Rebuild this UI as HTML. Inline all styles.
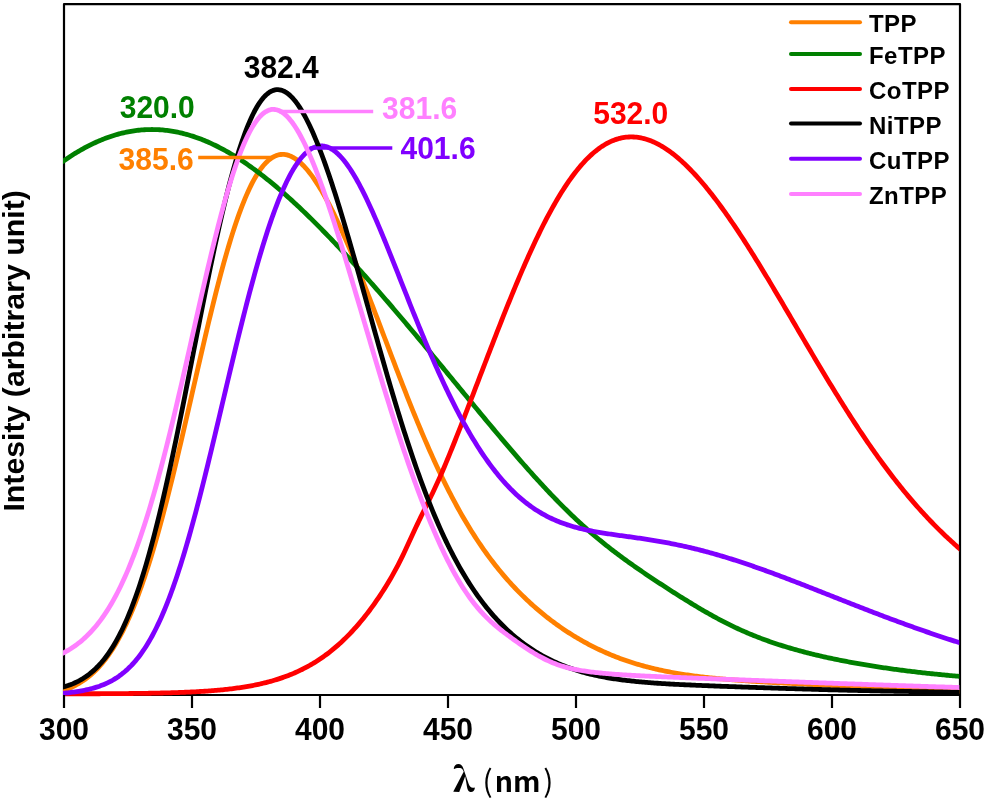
<!DOCTYPE html>
<html><head><meta charset="utf-8"><style>
html,body{margin:0;padding:0;background:#fff;width:986px;height:801px;overflow:hidden}
svg{display:block}
text{font-family:'Liberation Sans', Arial, sans-serif;font-weight:bold}
</style></head><body>
<svg width="986" height="801" viewBox="0 0 986 801">
<rect x="0" y="0" width="986" height="801" fill="#fff"/>
<defs><clipPath id="pc"><rect x="63" y="5" width="896.3" height="698"/></clipPath></defs>
<rect x="64" y="4.2" width="896" height="690.8" fill="none" stroke="#000" stroke-width="2.2" stroke-linejoin="round"/>
<g clip-path="url(#pc)" fill="none" stroke-width="4.8" stroke-linejoin="round" stroke-linecap="butt">
<path d="M62.0,690.99 L63.5,690.48 L65.0,689.94 L66.5,689.38 L68.0,688.79 L69.5,688.16 L71.0,687.50 L72.5,686.80 L74.0,686.07 L75.5,685.30 L77.0,684.49 L78.5,683.64 L80.0,682.74 L81.5,681.80 L83.0,680.82 L84.5,679.78 L86.0,678.70 L87.5,677.56 L89.0,676.37 L90.5,675.12 L92.0,673.82 L93.5,672.45 L95.0,671.03 L96.5,669.54 L98.0,667.98 L99.5,666.36 L101.0,664.67 L102.5,662.90 L104.0,661.06 L105.5,659.15 L107.0,657.16 L108.5,655.08 L110.0,652.93 L111.5,650.70 L113.0,648.37 L114.5,645.97 L116.0,643.47 L117.5,640.88 L119.0,638.20 L120.5,635.43 L122.0,632.56 L123.5,629.59 L125.0,626.53 L126.5,623.37 L128.0,620.10 L129.5,616.74 L131.0,613.27 L132.5,609.70 L134.0,606.03 L135.5,602.25 L137.0,598.37 L138.5,594.38 L140.0,590.29 L141.5,586.09 L143.0,581.78 L144.5,577.37 L146.0,572.86 L147.5,568.24 L149.0,563.52 L150.5,558.70 L152.0,553.77 L153.5,548.75 L155.0,543.63 L156.5,538.41 L158.0,533.10 L159.5,527.69 L161.0,522.20 L162.5,516.62 L164.0,510.95 L165.5,505.20 L167.0,499.37 L168.5,493.47 L170.0,487.49 L171.5,481.44 L173.0,475.33 L174.5,469.15 L176.0,462.92 L177.5,456.63 L179.0,450.30 L180.5,443.92 L182.0,437.50 L183.5,431.04 L185.0,424.55 L186.5,418.04 L188.0,411.51 L189.5,404.96 L191.0,398.40 L192.5,391.83 L194.0,385.27 L195.5,378.71 L197.0,372.16 L198.5,365.62 L200.0,359.11 L201.5,352.63 L203.0,346.18 L204.5,339.76 L206.0,333.39 L207.5,327.07 L209.0,320.80 L210.5,314.60 L212.0,308.45 L213.5,302.38 L215.0,296.38 L216.5,290.46 L218.0,284.63 L219.5,278.88 L221.0,273.23 L222.5,267.68 L224.0,262.22 L225.5,256.88 L227.0,251.64 L228.5,246.52 L230.0,241.52 L231.5,236.63 L233.0,231.88 L234.5,227.24 L236.0,222.74 L237.5,218.38 L239.0,214.14 L240.5,210.05 L242.0,206.09 L243.5,202.28 L245.0,198.61 L246.5,195.08 L248.0,191.70 L249.5,188.46 L251.0,185.38 L252.5,182.44 L254.0,179.65 L255.5,177.01 L257.0,174.52 L258.5,172.18 L260.0,169.99 L261.5,167.95 L263.0,166.05 L264.5,164.30 L266.0,162.70 L267.5,161.25 L269.0,159.94 L270.5,158.77 L272.0,157.75 L273.5,156.86 L275.0,156.12 L276.5,155.51 L278.0,155.03 L279.5,154.69 L281.0,154.49 L282.5,154.41 L284.0,154.46 L285.5,154.63 L287.0,154.93 L288.5,155.35 L290.0,155.89 L291.5,156.55 L293.0,157.32 L294.5,158.20 L296.0,159.19 L297.5,160.29 L299.0,161.49 L300.5,162.80 L302.0,164.21 L303.5,165.72 L305.0,167.32 L306.5,169.02 L308.0,170.80 L309.5,172.68 L311.0,174.64 L312.5,176.69 L314.0,178.82 L315.5,181.04 L317.0,183.33 L318.5,185.69 L320.0,188.13 L321.5,190.64 L323.0,193.23 L324.5,195.88 L326.0,198.59 L327.5,201.38 L329.0,204.22 L330.5,207.12 L332.0,210.09 L333.5,213.11 L335.0,216.18 L336.5,219.31 L338.0,222.49 L339.5,225.72 L341.0,228.99 L342.5,232.32 L344.0,235.69 L345.5,239.10 L347.0,242.55 L348.5,246.04 L350.0,249.57 L351.5,253.14 L353.0,256.74 L354.5,260.37 L356.0,264.03 L357.5,267.73 L359.0,271.45 L360.5,275.20 L362.0,278.97 L363.5,282.77 L365.0,286.59 L366.5,290.43 L368.0,294.29 L369.5,298.16 L371.0,302.05 L372.5,305.96 L374.0,309.87 L375.5,313.80 L377.0,317.73 L378.5,321.68 L380.0,325.63 L381.5,329.58 L383.0,333.53 L384.5,337.49 L386.0,341.45 L387.5,345.40 L389.0,349.36 L390.5,353.31 L392.0,357.25 L393.5,361.18 L395.0,365.11 L396.5,369.02 L398.0,372.93 L399.5,376.82 L401.0,380.69 L402.5,384.56 L404.0,388.40 L405.5,392.23 L407.0,396.03 L408.5,399.82 L410.0,403.59 L411.5,407.33 L413.0,411.05 L414.5,414.75 L416.0,418.42 L417.5,422.06 L419.0,425.68 L420.5,429.27 L422.0,432.83 L423.5,436.36 L425.0,439.86 L426.5,443.32 L428.0,446.76 L429.5,450.17 L431.0,453.54 L432.5,456.88 L434.0,460.18 L435.5,463.45 L437.0,466.69 L438.5,469.89 L440.0,473.05 L441.5,476.18 L443.0,479.28 L444.5,482.33 L446.0,485.36 L447.5,488.34 L449.0,491.29 L450.5,494.20 L452.0,497.08 L453.5,499.92 L455.0,502.72 L456.5,505.49 L458.0,508.22 L459.5,510.91 L461.0,513.57 L462.5,516.19 L464.0,518.78 L465.5,521.33 L467.0,523.85 L468.5,526.33 L470.0,528.78 L471.5,531.19 L473.0,533.57 L474.5,535.91 L476.0,538.22 L477.5,540.50 L479.0,542.75 L480.5,544.96 L482.0,547.15 L483.5,549.30 L485.0,551.42 L486.5,553.51 L488.0,555.57 L489.5,557.60 L491.0,559.60 L492.5,561.57 L494.0,563.51 L495.5,565.43 L497.0,567.32 L498.5,569.18 L500.0,571.02 L501.5,572.82 L503.0,574.61 L504.5,576.36 L506.0,578.10 L507.5,579.81 L509.0,581.49 L510.5,583.15 L512.0,584.79 L513.5,586.40 L515.0,587.99 L516.5,589.56 L518.0,591.11 L519.5,592.64 L521.0,594.14 L522.5,595.63 L524.0,597.09 L525.5,598.54 L527.0,599.96 L528.5,601.36 L530.0,602.75 L531.5,604.12 L533.0,605.47 L534.5,606.80 L536.0,608.11 L537.5,609.40 L539.0,610.68 L540.5,611.94 L542.0,613.18 L543.5,614.41 L545.0,615.62 L546.5,616.81 L548.0,617.99 L549.5,619.15 L551.0,620.30 L552.5,621.42 L554.0,622.54 L555.5,623.64 L557.0,624.72 L558.5,625.79 L560.0,626.85 L561.5,627.89 L563.0,628.91 L564.5,629.92 L566.0,630.92 L567.5,631.90 L569.0,632.87 L570.5,633.83 L572.0,634.77 L573.5,635.70 L575.0,636.61 L576.5,637.52 L578.0,638.41 L579.5,639.28 L581.0,640.14 L582.5,640.99 L584.0,641.83 L585.5,642.66 L587.0,643.47 L588.5,644.27 L590.0,645.06 L591.5,645.83 L593.0,646.59 L594.5,647.35 L596.0,648.09 L597.5,648.81 L599.0,649.53 L600.5,650.23 L602.0,650.93 L603.5,651.61 L605.0,652.28 L606.5,652.94 L608.0,653.58 L609.5,654.22 L611.0,654.85 L612.5,655.46 L614.0,656.07 L615.5,656.66 L617.0,657.24 L618.5,657.82 L620.0,658.38 L621.5,658.93 L623.0,659.48 L624.5,660.01 L626.0,660.53 L627.5,661.05 L629.0,661.55 L630.5,662.04 L632.0,662.53 L633.5,663.00 L635.0,663.47 L636.5,663.93 L638.0,664.38 L639.5,664.82 L641.0,665.25 L642.5,665.67 L644.0,666.08 L645.5,666.49 L647.0,666.89 L648.5,667.28 L650.0,667.66 L651.5,668.03 L653.0,668.40 L654.5,668.76 L656.0,669.11 L657.5,669.45 L659.0,669.79 L660.5,670.12 L662.0,670.44 L663.5,670.76 L665.0,671.07 L666.5,671.37 L668.0,671.66 L669.5,671.95 L671.0,672.24 L672.5,672.51 L674.0,672.79 L675.5,673.05 L677.0,673.31 L678.5,673.56 L680.0,673.81 L681.5,674.05 L683.0,674.29 L684.5,674.52 L686.0,674.75 L687.5,674.97 L689.0,675.19 L690.5,675.40 L692.0,675.61 L693.5,675.82 L695.0,676.02 L696.5,676.21 L698.0,676.40 L699.5,676.59 L701.0,676.77 L702.5,676.95 L704.0,677.12 L705.5,677.29 L707.0,677.46 L708.5,677.63 L710.0,677.79 L711.5,677.94 L713.0,678.10 L714.5,678.25 L716.0,678.40 L717.5,678.54 L719.0,678.68 L720.5,678.82 L722.0,678.96 L723.5,679.09 L725.0,679.22 L726.5,679.35 L728.0,679.48 L729.5,679.60 L731.0,679.73 L732.5,679.85 L734.0,679.96 L735.5,680.08 L737.0,680.19 L738.5,680.30 L740.0,680.41 L741.5,680.52 L743.0,680.63 L744.5,680.73 L746.0,680.84 L747.5,680.94 L749.0,681.04 L750.5,681.14 L752.0,681.23 L753.5,681.33 L755.0,681.43 L756.5,681.52 L758.0,681.61 L759.5,681.70 L761.0,681.79 L762.5,681.88 L764.0,681.97 L765.5,682.06 L767.0,682.14 L768.5,682.23 L770.0,682.31 L771.5,682.40 L773.0,682.48 L774.5,682.56 L776.0,682.65 L777.5,682.73 L779.0,682.81 L780.5,682.89 L782.0,682.97 L783.5,683.04 L785.0,683.12 L786.5,683.20 L788.0,683.28 L789.5,683.35 L791.0,683.43 L792.5,683.51 L794.0,683.58 L795.5,683.66 L797.0,683.73 L798.5,683.81 L800.0,683.88 L801.5,683.96 L803.0,684.03 L804.5,684.10 L806.0,684.18 L807.5,684.25 L809.0,684.32 L810.5,684.40 L812.0,684.47 L813.5,684.54 L815.0,684.62 L816.5,684.69 L818.0,684.76 L819.5,684.83 L821.0,684.90 L822.5,684.98 L824.0,685.05 L825.5,685.12 L827.0,685.19 L828.5,685.26 L830.0,685.34 L831.5,685.41 L833.0,685.48 L834.5,685.55 L836.0,685.62 L837.5,685.69 L839.0,685.76 L840.5,685.84 L842.0,685.91 L843.5,685.98 L845.0,686.05 L846.5,686.12 L848.0,686.19 L849.5,686.26 L851.0,686.34 L852.5,686.41 L854.0,686.48 L855.5,686.55 L857.0,686.62 L858.5,686.69 L860.0,686.77 L861.5,686.84 L863.0,686.91 L864.5,686.98 L866.0,687.05 L867.5,687.12 L869.0,687.19 L870.5,687.27 L872.0,687.34 L873.5,687.41 L875.0,687.48 L876.5,687.55 L878.0,687.62 L879.5,687.69 L881.0,687.77 L882.5,687.84 L884.0,687.91 L885.5,687.98 L887.0,688.05 L888.5,688.12 L890.0,688.19 L891.5,688.26 L893.0,688.34 L894.5,688.41 L896.0,688.48 L897.5,688.55 L899.0,688.62 L900.5,688.69 L902.0,688.76 L903.5,688.83 L905.0,688.90 L906.5,688.97 L908.0,689.05 L909.5,689.12 L911.0,689.19 L912.5,689.26 L914.0,689.33 L915.5,689.40 L917.0,689.47 L918.5,689.54 L920.0,689.61 L921.5,689.68 L923.0,689.75 L924.5,689.82 L926.0,689.89 L927.5,689.96 L929.0,690.03 L930.5,690.09 L932.0,690.16 L933.5,690.23 L935.0,690.30 L936.5,690.37 L938.0,690.44 L939.5,690.51 L941.0,690.57 L942.5,690.64 L944.0,690.71 L945.5,690.78 L947.0,690.85 L948.5,690.91 L950.0,690.98 L951.5,691.05 L953.0,691.11 L954.5,691.18 L956.0,691.25 L957.5,691.31 L959.0,691.38 L960.5,691.45 L962.0,691.51" stroke="#FF8000"/>
<path d="M62.0,162.06 L63.5,161.00 L65.0,159.97 L66.5,158.95 L68.0,157.94 L69.5,156.95 L71.0,155.98 L72.5,155.03 L74.0,154.09 L75.5,153.16 L77.0,152.26 L78.5,151.37 L80.0,150.49 L81.5,149.64 L83.0,148.80 L84.5,147.98 L86.0,147.17 L87.5,146.39 L89.0,145.62 L90.5,144.86 L92.0,144.13 L93.5,143.41 L95.0,142.71 L96.5,142.03 L98.0,141.36 L99.5,140.72 L101.0,140.09 L102.5,139.47 L104.0,138.88 L105.5,138.31 L107.0,137.75 L108.5,137.21 L110.0,136.69 L111.5,136.18 L113.0,135.70 L114.5,135.23 L116.0,134.78 L117.5,134.35 L119.0,133.94 L120.5,133.54 L122.0,133.17 L123.5,132.81 L125.0,132.47 L126.5,132.15 L128.0,131.85 L129.5,131.56 L131.0,131.30 L132.5,131.05 L134.0,130.82 L135.5,130.61 L137.0,130.42 L138.5,130.25 L140.0,130.09 L141.5,129.95 L143.0,129.84 L144.5,129.74 L146.0,129.66 L147.5,129.59 L149.0,129.55 L150.5,129.53 L152.0,129.52 L153.5,129.53 L155.0,129.56 L156.5,129.61 L158.0,129.67 L159.5,129.76 L161.0,129.86 L162.5,129.98 L164.0,130.12 L165.5,130.28 L167.0,130.45 L168.5,130.65 L170.0,130.86 L171.5,131.09 L173.0,131.33 L174.5,131.60 L176.0,131.88 L177.5,132.18 L179.0,132.50 L180.5,132.84 L182.0,133.19 L183.5,133.56 L185.0,133.95 L186.5,134.36 L188.0,134.78 L189.5,135.22 L191.0,135.68 L192.5,136.16 L194.0,136.65 L195.5,137.16 L197.0,137.68 L198.5,138.22 L200.0,138.78 L201.5,139.36 L203.0,139.95 L204.5,140.56 L206.0,141.19 L207.5,141.83 L209.0,142.48 L210.5,143.16 L212.0,143.85 L213.5,144.55 L215.0,145.27 L216.5,146.01 L218.0,146.76 L219.5,147.53 L221.0,148.31 L222.5,149.11 L224.0,149.92 L225.5,150.75 L227.0,151.59 L228.5,152.45 L230.0,153.32 L231.5,154.21 L233.0,155.11 L234.5,156.03 L236.0,156.96 L237.5,157.90 L239.0,158.86 L240.5,159.83 L242.0,160.82 L243.5,161.82 L245.0,162.83 L246.5,163.85 L248.0,164.89 L249.5,165.94 L251.0,167.01 L252.5,168.08 L254.0,169.17 L255.5,170.28 L257.0,171.39 L258.5,172.52 L260.0,173.66 L261.5,174.81 L263.0,175.97 L264.5,177.15 L266.0,178.33 L267.5,179.53 L269.0,180.74 L270.5,181.96 L272.0,183.19 L273.5,184.43 L275.0,185.69 L276.5,186.95 L278.0,188.22 L279.5,189.51 L281.0,190.80 L282.5,192.11 L284.0,193.42 L285.5,194.75 L287.0,196.08 L288.5,197.43 L290.0,198.78 L291.5,200.14 L293.0,201.52 L294.5,202.90 L296.0,204.29 L297.5,205.69 L299.0,207.09 L300.5,208.51 L302.0,209.93 L303.5,211.37 L305.0,212.81 L306.5,214.26 L308.0,215.72 L309.5,217.18 L311.0,218.65 L312.5,220.13 L314.0,221.62 L315.5,223.12 L317.0,224.62 L318.5,226.13 L320.0,227.65 L321.5,229.17 L323.0,230.70 L324.5,232.24 L326.0,233.79 L327.5,235.34 L329.0,236.89 L330.5,238.46 L332.0,240.03 L333.5,241.60 L335.0,243.18 L336.5,244.77 L338.0,246.37 L339.5,247.97 L341.0,249.57 L342.5,251.18 L344.0,252.80 L345.5,254.42 L347.0,256.05 L348.5,257.68 L350.0,259.32 L351.5,260.96 L353.0,262.60 L354.5,264.26 L356.0,265.91 L357.5,267.58 L359.0,269.24 L360.5,270.91 L362.0,272.59 L363.5,274.27 L365.0,275.95 L366.5,277.64 L368.0,279.33 L369.5,281.03 L371.0,282.73 L372.5,284.44 L374.0,286.14 L375.5,287.86 L377.0,289.57 L378.5,291.29 L380.0,293.02 L381.5,294.74 L383.0,296.48 L384.5,298.21 L386.0,299.95 L387.5,301.69 L389.0,303.43 L390.5,305.18 L392.0,306.93 L393.5,308.69 L395.0,310.44 L396.5,312.20 L398.0,313.97 L399.5,315.73 L401.0,317.50 L402.5,319.27 L404.0,321.05 L405.5,322.82 L407.0,324.60 L408.5,326.38 L410.0,328.17 L411.5,329.95 L413.0,331.74 L414.5,333.53 L416.0,335.33 L417.5,337.12 L419.0,338.92 L420.5,340.72 L422.0,342.52 L423.5,344.32 L425.0,346.13 L426.5,347.93 L428.0,349.74 L429.5,351.55 L431.0,353.36 L432.5,355.18 L434.0,356.99 L435.5,358.81 L437.0,360.62 L438.5,362.44 L440.0,364.26 L441.5,366.08 L443.0,367.90 L444.5,369.72 L446.0,371.54 L447.5,373.36 L449.0,375.19 L450.5,377.01 L452.0,378.83 L453.5,380.66 L455.0,382.48 L456.5,384.31 L458.0,386.13 L459.5,387.96 L461.0,389.78 L462.5,391.61 L464.0,393.43 L465.5,395.25 L467.0,397.08 L468.5,398.90 L470.0,400.72 L471.5,402.54 L473.0,404.36 L474.5,406.18 L476.0,407.99 L477.5,409.81 L479.0,411.62 L480.5,413.44 L482.0,415.25 L483.5,417.06 L485.0,418.86 L486.5,420.67 L488.0,422.47 L489.5,424.27 L491.0,426.07 L492.5,427.87 L494.0,429.66 L495.5,431.45 L497.0,433.24 L498.5,435.02 L500.0,436.80 L501.5,438.58 L503.0,440.35 L504.5,442.12 L506.0,443.89 L507.5,445.65 L509.0,447.41 L510.5,449.16 L512.0,450.91 L513.5,452.66 L515.0,454.40 L516.5,456.13 L518.0,457.87 L519.5,459.59 L521.0,461.31 L522.5,463.02 L524.0,464.73 L525.5,466.44 L527.0,468.13 L528.5,469.82 L530.0,471.51 L531.5,473.19 L533.0,474.86 L534.5,476.52 L536.0,478.18 L537.5,479.83 L539.0,481.47 L540.5,483.10 L542.0,484.73 L543.5,486.35 L545.0,487.96 L546.5,489.57 L548.0,491.16 L549.5,492.75 L551.0,494.32 L552.5,495.89 L554.0,497.45 L555.5,499.00 L557.0,500.54 L558.5,502.07 L560.0,503.59 L561.5,505.11 L563.0,506.61 L564.5,508.10 L566.0,509.58 L567.5,511.05 L569.0,512.51 L570.5,513.96 L572.0,515.40 L573.5,516.83 L575.0,518.25 L576.5,519.66 L578.0,521.06 L579.5,522.44 L581.0,523.82 L582.5,525.18 L584.0,526.54 L585.5,527.88 L587.0,529.21 L588.5,530.53 L590.0,531.84 L591.5,533.14 L593.0,534.43 L594.5,535.71 L596.0,536.98 L597.5,538.23 L599.0,539.48 L600.5,540.71 L602.0,541.94 L603.5,543.15 L605.0,544.36 L606.5,545.55 L608.0,546.74 L609.5,547.92 L611.0,549.08 L612.5,550.24 L614.0,551.39 L615.5,552.53 L617.0,553.67 L618.5,554.79 L620.0,555.91 L621.5,557.01 L623.0,558.12 L624.5,559.21 L626.0,560.30 L627.5,561.38 L629.0,562.45 L630.5,563.52 L632.0,564.58 L633.5,565.63 L635.0,566.68 L636.5,567.73 L638.0,568.77 L639.5,569.80 L641.0,570.83 L642.5,571.86 L644.0,572.88 L645.5,573.90 L647.0,574.91 L648.5,575.92 L650.0,576.92 L651.5,577.93 L653.0,578.93 L654.5,579.92 L656.0,580.91 L657.5,581.90 L659.0,582.89 L660.5,583.87 L662.0,584.86 L663.5,585.83 L665.0,586.81 L666.5,587.78 L668.0,588.75 L669.5,589.72 L671.0,590.68 L672.5,591.65 L674.0,592.60 L675.5,593.56 L677.0,594.51 L678.5,595.46 L680.0,596.41 L681.5,597.35 L683.0,598.29 L684.5,599.22 L686.0,600.15 L687.5,601.08 L689.0,602.00 L690.5,602.92 L692.0,603.84 L693.5,604.74 L695.0,605.65 L696.5,606.55 L698.0,607.44 L699.5,608.33 L701.0,609.21 L702.5,610.09 L704.0,610.96 L705.5,611.82 L707.0,612.68 L708.5,613.53 L710.0,614.38 L711.5,615.21 L713.0,616.04 L714.5,616.87 L716.0,617.68 L717.5,618.49 L719.0,619.29 L720.5,620.08 L722.0,620.87 L723.5,621.65 L725.0,622.42 L726.5,623.18 L728.0,623.93 L729.5,624.67 L731.0,625.41 L732.5,626.14 L734.0,626.86 L735.5,627.57 L737.0,628.27 L738.5,628.96 L740.0,629.65 L741.5,630.33 L743.0,630.99 L744.5,631.65 L746.0,632.31 L747.5,632.95 L749.0,633.59 L750.5,634.21 L752.0,634.83 L753.5,635.44 L755.0,636.04 L756.5,636.64 L758.0,637.23 L759.5,637.81 L761.0,638.38 L762.5,638.94 L764.0,639.50 L765.5,640.05 L767.0,640.59 L768.5,641.12 L770.0,641.65 L771.5,642.17 L773.0,642.68 L774.5,643.19 L776.0,643.69 L777.5,644.18 L779.0,644.67 L780.5,645.15 L782.0,645.63 L783.5,646.10 L785.0,646.56 L786.5,647.02 L788.0,647.47 L789.5,647.91 L791.0,648.35 L792.5,648.79 L794.0,649.22 L795.5,649.64 L797.0,650.06 L798.5,650.47 L800.0,650.88 L801.5,651.28 L803.0,651.68 L804.5,652.08 L806.0,652.47 L807.5,652.85 L809.0,653.23 L810.5,653.61 L812.0,653.98 L813.5,654.35 L815.0,654.71 L816.5,655.07 L818.0,655.42 L819.5,655.77 L821.0,656.12 L822.5,656.47 L824.0,656.80 L825.5,657.14 L827.0,657.47 L828.5,657.80 L830.0,658.13 L831.5,658.45 L833.0,658.76 L834.5,659.08 L836.0,659.39 L837.5,659.70 L839.0,660.00 L840.5,660.30 L842.0,660.60 L843.5,660.90 L845.0,661.19 L846.5,661.47 L848.0,661.76 L849.5,662.04 L851.0,662.32 L852.5,662.60 L854.0,662.87 L855.5,663.14 L857.0,663.41 L858.5,663.67 L860.0,663.94 L861.5,664.20 L863.0,664.45 L864.5,664.71 L866.0,664.96 L867.5,665.21 L869.0,665.45 L870.5,665.70 L872.0,665.94 L873.5,666.17 L875.0,666.41 L876.5,666.64 L878.0,666.87 L879.5,667.10 L881.0,667.33 L882.5,667.55 L884.0,667.77 L885.5,667.99 L887.0,668.21 L888.5,668.42 L890.0,668.64 L891.5,668.85 L893.0,669.05 L894.5,669.26 L896.0,669.46 L897.5,669.66 L899.0,669.86 L900.5,670.06 L902.0,670.25 L903.5,670.45 L905.0,670.64 L906.5,670.83 L908.0,671.01 L909.5,671.20 L911.0,671.38 L912.5,671.56 L914.0,671.74 L915.5,671.92 L917.0,672.09 L918.5,672.27 L920.0,672.44 L921.5,672.61 L923.0,672.78 L924.5,672.94 L926.0,673.11 L927.5,673.27 L929.0,673.43 L930.5,673.59 L932.0,673.75 L933.5,673.90 L935.0,674.06 L936.5,674.21 L938.0,674.36 L939.5,674.51 L941.0,674.66 L942.5,674.81 L944.0,674.95 L945.5,675.09 L947.0,675.24 L948.5,675.38 L950.0,675.52 L951.5,675.65 L953.0,675.79 L954.5,675.92 L956.0,676.06 L957.5,676.19 L959.0,676.32 L960.5,676.45 L962.0,676.57" stroke="#008000"/>
<path d="M62.0,693.84 L63.5,693.84 L65.0,693.83 L66.5,693.83 L68.0,693.83 L69.5,693.83 L71.0,693.82 L72.5,693.82 L74.0,693.82 L75.5,693.81 L77.0,693.81 L78.5,693.80 L80.0,693.80 L81.5,693.80 L83.0,693.79 L84.5,693.79 L86.0,693.78 L87.5,693.78 L89.0,693.77 L90.5,693.77 L92.0,693.76 L93.5,693.76 L95.0,693.75 L96.5,693.74 L98.0,693.74 L99.5,693.73 L101.0,693.72 L102.5,693.72 L104.0,693.71 L105.5,693.70 L107.0,693.69 L108.5,693.68 L110.0,693.68 L111.5,693.67 L113.0,693.66 L114.5,693.65 L116.0,693.64 L117.5,693.62 L119.0,693.61 L120.5,693.60 L122.0,693.59 L123.5,693.58 L125.0,693.56 L126.5,693.55 L128.0,693.53 L129.5,693.52 L131.0,693.50 L132.5,693.49 L134.0,693.47 L135.5,693.45 L137.0,693.44 L138.5,693.42 L140.0,693.40 L141.5,693.38 L143.0,693.35 L144.5,693.33 L146.0,693.31 L147.5,693.29 L149.0,693.26 L150.5,693.23 L152.0,693.21 L153.5,693.18 L155.0,693.15 L156.5,693.12 L158.0,693.09 L159.5,693.06 L161.0,693.02 L162.5,692.99 L164.0,692.95 L165.5,692.91 L167.0,692.88 L168.5,692.83 L170.0,692.79 L171.5,692.75 L173.0,692.70 L174.5,692.66 L176.0,692.61 L177.5,692.56 L179.0,692.50 L180.5,692.45 L182.0,692.39 L183.5,692.33 L185.0,692.27 L186.5,692.21 L188.0,692.14 L189.5,692.08 L191.0,692.00 L192.5,691.93 L194.0,691.86 L195.5,691.78 L197.0,691.70 L198.5,691.61 L200.0,691.52 L201.5,691.43 L203.0,691.34 L204.5,691.24 L206.0,691.14 L207.5,691.04 L209.0,690.93 L210.5,690.82 L212.0,690.70 L213.5,690.58 L215.0,690.46 L216.5,690.33 L218.0,690.20 L219.5,690.06 L221.0,689.92 L222.5,689.77 L224.0,689.62 L225.5,689.46 L227.0,689.30 L228.5,689.13 L230.0,688.95 L231.5,688.77 L233.0,688.59 L234.5,688.40 L236.0,688.20 L237.5,687.99 L239.0,687.78 L240.5,687.56 L242.0,687.33 L243.5,687.10 L245.0,686.86 L246.5,686.61 L248.0,686.35 L249.5,686.09 L251.0,685.81 L252.5,685.53 L254.0,685.24 L255.5,684.94 L257.0,684.63 L258.5,684.31 L260.0,683.98 L261.5,683.64 L263.0,683.28 L264.5,682.92 L266.0,682.55 L267.5,682.16 L269.0,681.77 L270.5,681.36 L272.0,680.94 L273.5,680.51 L275.0,680.06 L276.5,679.60 L278.0,679.13 L279.5,678.65 L281.0,678.15 L282.5,677.63 L284.0,677.10 L285.5,676.56 L287.0,676.00 L288.5,675.42 L290.0,674.83 L291.5,674.22 L293.0,673.60 L294.5,672.95 L296.0,672.29 L297.5,671.62 L299.0,670.92 L300.5,670.20 L302.0,669.47 L303.5,668.72 L305.0,667.94 L306.5,667.15 L308.0,666.34 L309.5,665.50 L311.0,664.64 L312.5,663.77 L314.0,662.86 L315.5,661.94 L317.0,661.00 L318.5,660.03 L320.0,659.03 L321.5,658.01 L323.0,656.97 L324.5,655.91 L326.0,654.81 L327.5,653.70 L329.0,652.55 L330.5,651.38 L332.0,650.18 L333.5,648.96 L335.0,647.70 L336.5,646.42 L338.0,645.11 L339.5,643.78 L341.0,642.41 L342.5,641.01 L344.0,639.59 L345.5,638.13 L347.0,636.64 L348.5,635.12 L350.0,633.57 L351.5,631.99 L353.0,630.38 L354.5,628.73 L356.0,627.05 L357.5,625.34 L359.0,623.60 L360.5,621.82 L362.0,620.01 L363.5,618.17 L365.0,616.29 L366.5,614.37 L368.0,612.42 L369.5,610.44 L371.0,608.42 L372.5,606.37 L374.0,604.28 L375.5,602.15 L377.0,599.99 L378.5,597.79 L380.0,595.55 L381.5,593.27 L383.0,590.95 L384.5,588.59 L386.0,586.19 L387.5,583.74 L389.0,581.24 L390.5,578.69 L392.0,576.09 L393.5,573.43 L395.0,570.70 L396.5,567.91 L398.0,565.06 L399.5,562.13 L401.0,559.14 L402.5,556.09 L404.0,552.97 L405.5,549.80 L407.0,546.59 L408.5,543.35 L410.0,540.08 L411.5,536.81 L413.0,533.54 L414.5,530.29 L416.0,527.07 L417.5,523.88 L419.0,520.73 L420.5,517.62 L422.0,514.54 L423.5,511.49 L425.0,508.46 L426.5,505.44 L428.0,502.42 L429.5,499.38 L431.0,496.31 L432.5,493.20 L434.0,490.05 L435.5,486.85 L437.0,483.59 L438.5,480.27 L440.0,476.90 L441.5,473.47 L443.0,469.99 L444.5,466.46 L446.0,462.89 L447.5,459.28 L449.0,455.63 L450.5,451.95 L452.0,448.24 L453.5,444.51 L455.0,440.75 L456.5,436.98 L458.0,433.18 L459.5,429.37 L461.0,425.55 L462.5,421.71 L464.0,417.85 L465.5,413.99 L467.0,410.12 L468.5,406.23 L470.0,402.34 L471.5,398.45 L473.0,394.55 L474.5,390.64 L476.0,386.73 L477.5,382.81 L479.0,378.90 L480.5,374.98 L482.0,371.07 L483.5,367.16 L485.0,363.25 L486.5,359.34 L488.0,355.44 L489.5,351.55 L491.0,347.66 L492.5,343.78 L494.0,339.91 L495.5,336.06 L497.0,332.21 L498.5,328.38 L500.0,324.56 L501.5,320.75 L503.0,316.96 L504.5,313.19 L506.0,309.44 L507.5,305.70 L509.0,301.99 L510.5,298.30 L512.0,294.63 L513.5,290.98 L515.0,287.36 L516.5,283.77 L518.0,280.20 L519.5,276.66 L521.0,273.15 L522.5,269.67 L524.0,266.21 L525.5,262.79 L527.0,259.41 L528.5,256.05 L530.0,252.73 L531.5,249.45 L533.0,246.20 L534.5,242.99 L536.0,239.82 L537.5,236.68 L539.0,233.58 L540.5,230.53 L542.0,227.51 L543.5,224.54 L545.0,221.61 L546.5,218.72 L548.0,215.88 L549.5,213.08 L551.0,210.32 L552.5,207.61 L554.0,204.95 L555.5,202.33 L557.0,199.77 L558.5,197.24 L560.0,194.77 L561.5,192.35 L563.0,189.97 L564.5,187.65 L566.0,185.37 L567.5,183.14 L569.0,180.97 L570.5,178.85 L572.0,176.77 L573.5,174.75 L575.0,172.78 L576.5,170.87 L578.0,169.00 L579.5,167.19 L581.0,165.43 L582.5,163.73 L584.0,162.07 L585.5,160.47 L587.0,158.93 L588.5,157.43 L590.0,155.99 L591.5,154.61 L593.0,153.27 L594.5,151.99 L596.0,150.77 L597.5,149.59 L599.0,148.47 L600.5,147.41 L602.0,146.39 L603.5,145.43 L605.0,144.52 L606.5,143.66 L608.0,142.86 L609.5,142.11 L611.0,141.41 L612.5,140.76 L614.0,140.17 L615.5,139.62 L617.0,139.13 L618.5,138.68 L620.0,138.29 L621.5,137.95 L623.0,137.66 L624.5,137.41 L626.0,137.22 L627.5,137.08 L629.0,136.98 L630.5,136.93 L632.0,136.93 L633.5,136.98 L635.0,137.08 L636.5,137.22 L638.0,137.41 L639.5,137.64 L641.0,137.92 L642.5,138.24 L644.0,138.61 L645.5,139.02 L647.0,139.48 L648.5,139.98 L650.0,140.53 L651.5,141.11 L653.0,141.74 L654.5,142.41 L656.0,143.12 L657.5,143.87 L659.0,144.66 L660.5,145.49 L662.0,146.36 L663.5,147.27 L665.0,148.22 L666.5,149.21 L668.0,150.23 L669.5,151.29 L671.0,152.38 L672.5,153.52 L674.0,154.69 L675.5,155.89 L677.0,157.13 L678.5,158.40 L680.0,159.70 L681.5,161.04 L683.0,162.41 L684.5,163.82 L686.0,165.25 L687.5,166.72 L689.0,168.21 L690.5,169.74 L692.0,171.30 L693.5,172.89 L695.0,174.50 L696.5,176.15 L698.0,177.82 L699.5,179.52 L701.0,181.25 L702.5,183.00 L704.0,184.78 L705.5,186.59 L707.0,188.42 L708.5,190.27 L710.0,192.16 L711.5,194.06 L713.0,195.99 L714.5,197.94 L716.0,199.91 L717.5,201.91 L719.0,203.93 L720.5,205.97 L722.0,208.03 L723.5,210.11 L725.0,212.21 L726.5,214.33 L728.0,216.47 L729.5,218.62 L731.0,220.80 L732.5,222.99 L734.0,225.20 L735.5,227.43 L737.0,229.68 L738.5,231.94 L740.0,234.21 L741.5,236.50 L743.0,238.81 L744.5,241.13 L746.0,243.46 L747.5,245.81 L749.0,248.17 L750.5,250.55 L752.0,252.93 L753.5,255.33 L755.0,257.74 L756.5,260.16 L758.0,262.59 L759.5,265.03 L761.0,267.48 L762.5,269.94 L764.0,272.41 L765.5,274.88 L767.0,277.37 L768.5,279.86 L770.0,282.36 L771.5,284.87 L773.0,287.38 L774.5,289.90 L776.0,292.42 L777.5,294.95 L779.0,297.48 L780.5,300.02 L782.0,302.56 L783.5,305.11 L785.0,307.66 L786.5,310.21 L788.0,312.76 L789.5,315.32 L791.0,317.87 L792.5,320.43 L794.0,322.99 L795.5,325.55 L797.0,328.11 L798.5,330.67 L800.0,333.22 L801.5,335.78 L803.0,338.34 L804.5,340.89 L806.0,343.44 L807.5,345.99 L809.0,348.53 L810.5,351.07 L812.0,353.61 L813.5,356.14 L815.0,358.67 L816.5,361.20 L818.0,363.72 L819.5,366.23 L821.0,368.74 L822.5,371.24 L824.0,373.74 L825.5,376.23 L827.0,378.71 L828.5,381.18 L830.0,383.65 L831.5,386.11 L833.0,388.56 L834.5,391.00 L836.0,393.43 L837.5,395.86 L839.0,398.27 L840.5,400.68 L842.0,403.08 L843.5,405.46 L845.0,407.84 L846.5,410.20 L848.0,412.55 L849.5,414.90 L851.0,417.23 L852.5,419.55 L854.0,421.86 L855.5,424.15 L857.0,426.44 L858.5,428.71 L860.0,430.97 L861.5,433.21 L863.0,435.45 L864.5,437.67 L866.0,439.87 L867.5,442.07 L869.0,444.25 L870.5,446.41 L872.0,448.57 L873.5,450.71 L875.0,452.83 L876.5,454.94 L878.0,457.04 L879.5,459.12 L881.0,461.19 L882.5,463.24 L884.0,465.28 L885.5,467.30 L887.0,469.31 L888.5,471.31 L890.0,473.29 L891.5,475.25 L893.0,477.20 L894.5,479.13 L896.0,481.05 L897.5,482.95 L899.0,484.84 L900.5,486.72 L902.0,488.57 L903.5,490.42 L905.0,492.24 L906.5,494.05 L908.0,495.85 L909.5,497.63 L911.0,499.40 L912.5,501.15 L914.0,502.88 L915.5,504.60 L917.0,506.31 L918.5,508.00 L920.0,509.67 L921.5,511.33 L923.0,512.98 L924.5,514.61 L926.0,516.22 L927.5,517.82 L929.0,519.41 L930.5,520.98 L932.0,522.53 L933.5,524.08 L935.0,525.60 L936.5,527.11 L938.0,528.61 L939.5,530.10 L941.0,531.57 L942.5,533.02 L944.0,534.46 L945.5,535.89 L947.0,537.30 L948.5,538.71 L950.0,540.09 L951.5,541.47 L953.0,542.83 L954.5,544.17 L956.0,545.51 L957.5,546.83 L959.0,548.13 L960.5,549.43 L962.0,550.71" stroke="#FF0000"/>
<path d="M62.0,693.39 L63.5,693.25 L65.0,693.10 L66.5,692.94 L68.0,692.78 L69.5,692.61 L71.0,692.42 L72.5,692.23 L74.0,692.02 L75.5,691.81 L77.0,691.58 L78.5,691.34 L80.0,691.09 L81.5,690.82 L83.0,690.54 L84.5,690.24 L86.0,689.93 L87.5,689.59 L89.0,689.24 L90.5,688.87 L92.0,688.47 L93.5,688.06 L95.0,687.62 L96.5,687.15 L98.0,686.66 L99.5,686.15 L101.0,685.60 L102.5,685.02 L104.0,684.41 L105.5,683.77 L107.0,683.09 L108.5,682.37 L110.0,681.61 L111.5,680.82 L113.0,679.98 L114.5,679.09 L116.0,678.16 L117.5,677.18 L119.0,676.15 L120.5,675.07 L122.0,673.93 L123.5,672.74 L125.0,671.48 L126.5,670.17 L128.0,668.79 L129.5,667.34 L131.0,665.83 L132.5,664.24 L134.0,662.58 L135.5,660.85 L137.0,659.04 L138.5,657.15 L140.0,655.18 L141.5,653.12 L143.0,650.98 L144.5,648.75 L146.0,646.43 L147.5,644.02 L149.0,641.52 L150.5,638.92 L152.0,636.22 L153.5,633.42 L155.0,630.52 L156.5,627.52 L158.0,624.42 L159.5,621.22 L161.0,617.91 L162.5,614.49 L164.0,610.97 L165.5,607.34 L167.0,603.60 L168.5,599.75 L170.0,595.80 L171.5,591.74 L173.0,587.58 L174.5,583.30 L176.0,578.92 L177.5,574.44 L179.0,569.85 L180.5,565.16 L182.0,560.37 L183.5,555.48 L185.0,550.49 L186.5,545.41 L188.0,540.24 L189.5,534.97 L191.0,529.62 L192.5,524.18 L194.0,518.65 L195.5,513.05 L197.0,507.38 L198.5,501.63 L200.0,495.81 L201.5,489.93 L203.0,483.98 L204.5,477.98 L206.0,471.93 L207.5,465.82 L209.0,459.67 L210.5,453.49 L212.0,447.26 L213.5,441.00 L215.0,434.72 L216.5,428.41 L218.0,422.09 L219.5,415.75 L221.0,409.40 L222.5,403.05 L224.0,396.70 L225.5,390.35 L227.0,384.01 L228.5,377.69 L230.0,371.38 L231.5,365.10 L233.0,358.84 L234.5,352.62 L236.0,346.43 L237.5,340.28 L239.0,334.17 L240.5,328.11 L242.0,322.10 L243.5,316.15 L245.0,310.25 L246.5,304.42 L248.0,298.65 L249.5,292.95 L251.0,287.33 L252.5,281.78 L254.0,276.31 L255.5,270.92 L257.0,265.62 L258.5,260.40 L260.0,255.28 L261.5,250.24 L263.0,245.31 L264.5,240.47 L266.0,235.73 L267.5,231.09 L269.0,226.56 L270.5,222.14 L272.0,217.82 L273.5,213.62 L275.0,209.53 L276.5,205.55 L278.0,201.69 L279.5,197.95 L281.0,194.33 L282.5,190.83 L284.0,187.45 L285.5,184.20 L287.0,181.08 L288.5,178.08 L290.0,175.21 L291.5,172.47 L293.0,169.86 L294.5,167.38 L296.0,165.03 L297.5,162.82 L299.0,160.74 L300.5,158.80 L302.0,156.99 L303.5,155.32 L305.0,153.79 L306.5,152.39 L308.0,151.12 L309.5,150.00 L311.0,149.01 L312.5,148.16 L314.0,147.44 L315.5,146.87 L317.0,146.42 L318.5,146.12 L320.0,145.94 L321.5,145.90 L323.0,146.00 L324.5,146.23 L326.0,146.58 L327.5,147.07 L329.0,147.69 L330.5,148.43 L332.0,149.30 L333.5,150.29 L335.0,151.40 L336.5,152.63 L338.0,153.99 L339.5,155.45 L341.0,157.03 L342.5,158.73 L344.0,160.53 L345.5,162.43 L347.0,164.45 L348.5,166.56 L350.0,168.77 L351.5,171.08 L353.0,173.48 L354.5,175.97 L356.0,178.54 L357.5,181.21 L359.0,183.95 L360.5,186.77 L362.0,189.66 L363.5,192.63 L365.0,195.67 L366.5,198.77 L368.0,201.94 L369.5,205.16 L371.0,208.44 L372.5,211.77 L374.0,215.16 L375.5,218.59 L377.0,222.06 L378.5,225.57 L380.0,229.13 L381.5,232.72 L383.0,236.34 L384.5,239.98 L386.0,243.66 L387.5,247.36 L389.0,251.08 L390.5,254.82 L392.0,258.57 L393.5,262.34 L395.0,266.12 L396.5,269.91 L398.0,273.70 L399.5,277.50 L401.0,281.30 L402.5,285.09 L404.0,288.89 L405.5,292.68 L407.0,296.47 L408.5,300.25 L410.0,304.02 L411.5,307.77 L413.0,311.52 L414.5,315.25 L416.0,318.96 L417.5,322.65 L419.0,326.33 L420.5,329.99 L422.0,333.62 L423.5,337.24 L425.0,340.83 L426.5,344.39 L428.0,347.93 L429.5,351.44 L431.0,354.93 L432.5,358.39 L434.0,361.81 L435.5,365.21 L437.0,368.58 L438.5,371.91 L440.0,375.22 L441.5,378.49 L443.0,381.73 L444.5,384.93 L446.0,388.10 L447.5,391.24 L449.0,394.34 L450.5,397.40 L452.0,400.43 L453.5,403.42 L455.0,406.38 L456.5,409.30 L458.0,412.18 L459.5,415.03 L461.0,417.83 L462.5,420.60 L464.0,423.33 L465.5,426.03 L467.0,428.68 L468.5,431.30 L470.0,433.87 L471.5,436.41 L473.0,438.91 L474.5,441.37 L476.0,443.79 L477.5,446.18 L479.0,448.52 L480.5,450.82 L482.0,453.09 L483.5,455.31 L485.0,457.50 L486.5,459.65 L488.0,461.76 L489.5,463.83 L491.0,465.86 L492.5,467.85 L494.0,469.81 L495.5,471.72 L497.0,473.60 L498.5,475.44 L500.0,477.24 L501.5,479.01 L503.0,480.73 L504.5,482.42 L506.0,484.08 L507.5,485.69 L509.0,487.27 L510.5,488.82 L512.0,490.32 L513.5,491.80 L515.0,493.23 L516.5,494.64 L518.0,496.00 L519.5,497.34 L521.0,498.64 L522.5,499.91 L524.0,501.14 L525.5,502.34 L527.0,503.51 L528.5,504.65 L530.0,505.76 L531.5,506.83 L533.0,507.88 L534.5,508.90 L536.0,509.89 L537.5,510.84 L539.0,511.78 L540.5,512.68 L542.0,513.56 L543.5,514.41 L545.0,515.23 L546.5,516.03 L548.0,516.80 L549.5,517.55 L551.0,518.28 L552.5,518.98 L554.0,519.66 L555.5,520.32 L557.0,520.95 L558.5,521.57 L560.0,522.16 L561.5,522.74 L563.0,523.29 L564.5,523.83 L566.0,524.35 L567.5,524.85 L569.0,525.34 L570.5,525.81 L572.0,526.26 L573.5,526.70 L575.0,527.12 L576.5,527.53 L578.0,527.93 L579.5,528.31 L581.0,528.68 L582.5,529.04 L584.0,529.38 L585.5,529.72 L587.0,530.04 L588.5,530.36 L590.0,530.67 L591.5,530.96 L593.0,531.25 L594.5,531.53 L596.0,531.81 L597.5,532.07 L599.0,532.33 L600.5,532.59 L602.0,532.83 L603.5,533.08 L605.0,533.32 L606.5,533.55 L608.0,533.78 L609.5,534.00 L611.0,534.23 L612.5,534.44 L614.0,534.66 L615.5,534.88 L617.0,535.09 L618.5,535.30 L620.0,535.51 L621.5,535.72 L623.0,535.92 L624.5,536.13 L626.0,536.34 L627.5,536.55 L629.0,536.75 L630.5,536.96 L632.0,537.17 L633.5,537.38 L635.0,537.59 L636.5,537.81 L638.0,538.02 L639.5,538.24 L641.0,538.46 L642.5,538.68 L644.0,538.90 L645.5,539.13 L647.0,539.36 L648.5,539.59 L650.0,539.83 L651.5,540.07 L653.0,540.31 L654.5,540.55 L656.0,540.80 L657.5,541.06 L659.0,541.31 L660.5,541.57 L662.0,541.84 L663.5,542.11 L665.0,542.38 L666.5,542.66 L668.0,542.94 L669.5,543.23 L671.0,543.52 L672.5,543.81 L674.0,544.11 L675.5,544.42 L677.0,544.73 L678.5,545.04 L680.0,545.36 L681.5,545.68 L683.0,546.01 L684.5,546.34 L686.0,546.68 L687.5,547.02 L689.0,547.36 L690.5,547.71 L692.0,548.07 L693.5,548.43 L695.0,548.80 L696.5,549.16 L698.0,549.54 L699.5,549.92 L701.0,550.30 L702.5,550.69 L704.0,551.08 L705.5,551.48 L707.0,551.88 L708.5,552.29 L710.0,552.70 L711.5,553.12 L713.0,553.54 L714.5,553.96 L716.0,554.39 L717.5,554.82 L719.0,555.26 L720.5,555.70 L722.0,556.15 L723.5,556.60 L725.0,557.05 L726.5,557.51 L728.0,557.97 L729.5,558.43 L731.0,558.90 L732.5,559.38 L734.0,559.85 L735.5,560.33 L737.0,560.82 L738.5,561.30 L740.0,561.80 L741.5,562.29 L743.0,562.79 L744.5,563.29 L746.0,563.79 L747.5,564.30 L749.0,564.81 L750.5,565.33 L752.0,565.84 L753.5,566.36 L755.0,566.89 L756.5,567.41 L758.0,567.94 L759.5,568.47 L761.0,569.00 L762.5,569.54 L764.0,570.08 L765.5,570.62 L767.0,571.16 L768.5,571.71 L770.0,572.26 L771.5,572.81 L773.0,573.36 L774.5,573.92 L776.0,574.47 L777.5,575.03 L779.0,575.59 L780.5,576.16 L782.0,576.72 L783.5,577.29 L785.0,577.86 L786.5,578.42 L788.0,579.00 L789.5,579.57 L791.0,580.14 L792.5,580.72 L794.0,581.29 L795.5,581.87 L797.0,582.45 L798.5,583.03 L800.0,583.61 L801.5,584.20 L803.0,584.78 L804.5,585.36 L806.0,585.95 L807.5,586.53 L809.0,587.12 L810.5,587.71 L812.0,588.30 L813.5,588.89 L815.0,589.48 L816.5,590.07 L818.0,590.66 L819.5,591.25 L821.0,591.84 L822.5,592.43 L824.0,593.02 L825.5,593.61 L827.0,594.20 L828.5,594.80 L830.0,595.39 L831.5,595.98 L833.0,596.57 L834.5,597.16 L836.0,597.76 L837.5,598.35 L839.0,598.94 L840.5,599.53 L842.0,600.12 L843.5,600.71 L845.0,601.30 L846.5,601.89 L848.0,602.48 L849.5,603.07 L851.0,603.66 L852.5,604.25 L854.0,604.83 L855.5,605.42 L857.0,606.00 L858.5,606.59 L860.0,607.17 L861.5,607.76 L863.0,608.34 L864.5,608.92 L866.0,609.50 L867.5,610.08 L869.0,610.66 L870.5,611.24 L872.0,611.81 L873.5,612.39 L875.0,612.96 L876.5,613.54 L878.0,614.11 L879.5,614.68 L881.0,615.25 L882.5,615.82 L884.0,616.38 L885.5,616.95 L887.0,617.51 L888.5,618.07 L890.0,618.64 L891.5,619.20 L893.0,619.75 L894.5,620.31 L896.0,620.87 L897.5,621.42 L899.0,621.97 L900.5,622.52 L902.0,623.07 L903.5,623.62 L905.0,624.16 L906.5,624.71 L908.0,625.25 L909.5,625.79 L911.0,626.33 L912.5,626.86 L914.0,627.40 L915.5,627.93 L917.0,628.46 L918.5,628.99 L920.0,629.52 L921.5,630.05 L923.0,630.57 L924.5,631.09 L926.0,631.61 L927.5,632.13 L929.0,632.64 L930.5,633.16 L932.0,633.67 L933.5,634.18 L935.0,634.69 L936.5,635.19 L938.0,635.70 L939.5,636.20 L941.0,636.70 L942.5,637.19 L944.0,637.69 L945.5,638.18 L947.0,638.67 L948.5,639.16 L950.0,639.65 L951.5,640.13 L953.0,640.61 L954.5,641.09 L956.0,641.57 L957.5,642.04 L959.0,642.52 L960.5,642.99 L962.0,643.45" stroke="#8000FF"/>
<path d="M62.0,687.38 L63.5,686.97 L65.0,686.53 L66.5,686.06 L68.0,685.56 L69.5,685.02 L71.0,684.46 L72.5,683.86 L74.0,683.22 L75.5,682.54 L77.0,681.82 L78.5,681.06 L80.0,680.25 L81.5,679.40 L83.0,678.50 L84.5,677.54 L86.0,676.53 L87.5,675.47 L89.0,674.35 L90.5,673.17 L92.0,671.92 L93.5,670.61 L95.0,669.24 L96.5,667.79 L98.0,666.27 L99.5,664.67 L101.0,663.00 L102.5,661.24 L104.0,659.40 L105.5,657.48 L107.0,655.47 L108.5,653.37 L110.0,651.17 L111.5,648.88 L113.0,646.49 L114.5,643.99 L116.0,641.40 L117.5,638.70 L119.0,635.89 L120.5,632.97 L122.0,629.94 L123.5,626.79 L125.0,623.53 L126.5,620.15 L128.0,616.65 L129.5,613.03 L131.0,609.28 L132.5,605.41 L134.0,601.42 L135.5,597.30 L137.0,593.05 L138.5,588.67 L140.0,584.16 L141.5,579.52 L143.0,574.76 L144.5,569.86 L146.0,564.84 L147.5,559.69 L149.0,554.41 L150.5,549.00 L152.0,543.46 L153.5,537.81 L155.0,532.02 L156.5,526.12 L158.0,520.10 L159.5,513.96 L161.0,507.71 L162.5,501.35 L164.0,494.87 L165.5,488.30 L167.0,481.62 L168.5,474.84 L170.0,467.97 L171.5,461.01 L173.0,453.97 L174.5,446.84 L176.0,439.64 L177.5,432.37 L179.0,425.04 L180.5,417.64 L182.0,410.19 L183.5,402.70 L185.0,395.16 L186.5,387.58 L188.0,379.98 L189.5,372.35 L191.0,364.70 L192.5,357.05 L194.0,349.39 L195.5,341.73 L197.0,334.09 L198.5,326.46 L200.0,318.85 L201.5,311.28 L203.0,303.74 L204.5,296.24 L206.0,288.80 L207.5,281.42 L209.0,274.10 L210.5,266.85 L212.0,259.68 L213.5,252.59 L215.0,245.60 L216.5,238.70 L218.0,231.90 L219.5,225.22 L221.0,218.65 L222.5,212.19 L224.0,205.87 L225.5,199.67 L227.0,193.61 L228.5,187.70 L230.0,181.93 L231.5,176.30 L233.0,170.84 L234.5,165.53 L236.0,160.38 L237.5,155.39 L239.0,150.58 L240.5,145.94 L242.0,141.47 L243.5,137.18 L245.0,133.07 L246.5,129.13 L248.0,125.39 L249.5,121.82 L251.0,118.44 L252.5,115.25 L254.0,112.25 L255.5,109.44 L257.0,106.81 L258.5,104.37 L260.0,102.13 L261.5,100.07 L263.0,98.20 L264.5,96.51 L266.0,95.02 L267.5,93.71 L269.0,92.59 L270.5,91.65 L272.0,90.90 L273.5,90.32 L275.0,89.93 L276.5,89.71 L278.0,89.67 L279.5,89.80 L281.0,90.11 L282.5,90.58 L284.0,91.23 L285.5,92.04 L287.0,93.01 L288.5,94.14 L290.0,95.43 L291.5,96.87 L293.0,98.47 L294.5,100.22 L296.0,102.11 L297.5,104.15 L299.0,106.33 L300.5,108.65 L302.0,111.10 L303.5,113.69 L305.0,116.41 L306.5,119.25 L308.0,122.22 L309.5,125.31 L311.0,128.51 L312.5,131.83 L314.0,135.26 L315.5,138.81 L317.0,142.45 L318.5,146.20 L320.0,150.05 L321.5,154.00 L323.0,158.03 L324.5,162.16 L326.0,166.38 L327.5,170.68 L329.0,175.06 L330.5,179.52 L332.0,184.05 L333.5,188.66 L335.0,193.33 L336.5,198.07 L338.0,202.87 L339.5,207.73 L341.0,212.65 L342.5,217.61 L344.0,222.63 L345.5,227.70 L347.0,232.81 L348.5,237.95 L350.0,243.14 L351.5,248.36 L353.0,253.61 L354.5,258.89 L356.0,264.20 L357.5,269.52 L359.0,274.87 L360.5,280.23 L362.0,285.61 L363.5,290.99 L365.0,296.39 L366.5,301.78 L368.0,307.18 L369.5,312.58 L371.0,317.98 L372.5,323.37 L374.0,328.75 L375.5,334.11 L377.0,339.47 L378.5,344.80 L380.0,350.12 L381.5,355.42 L383.0,360.69 L384.5,365.94 L386.0,371.16 L387.5,376.35 L389.0,381.51 L390.5,386.63 L392.0,391.72 L393.5,396.76 L395.0,401.77 L396.5,406.74 L398.0,411.67 L399.5,416.55 L401.0,421.38 L402.5,426.17 L404.0,430.91 L405.5,435.60 L407.0,440.24 L408.5,444.83 L410.0,449.36 L411.5,453.84 L413.0,458.27 L414.5,462.64 L416.0,466.96 L417.5,471.22 L419.0,475.42 L420.5,479.56 L422.0,483.65 L423.5,487.68 L425.0,491.65 L426.5,495.56 L428.0,499.41 L429.5,503.21 L431.0,506.94 L432.5,510.62 L434.0,514.24 L435.5,517.80 L437.0,521.30 L438.5,524.74 L440.0,528.13 L441.5,531.46 L443.0,534.73 L444.5,537.95 L446.0,541.11 L447.5,544.21 L449.0,547.26 L450.5,550.25 L452.0,553.19 L453.5,556.08 L455.0,558.91 L456.5,561.69 L458.0,564.42 L459.5,567.10 L461.0,569.73 L462.5,572.31 L464.0,574.84 L465.5,577.33 L467.0,579.76 L468.5,582.15 L470.0,584.49 L471.5,586.79 L473.0,589.04 L474.5,591.25 L476.0,593.41 L477.5,595.54 L479.0,597.62 L480.5,599.66 L482.0,601.66 L483.5,603.62 L485.0,605.54 L486.5,607.42 L488.0,609.27 L489.5,611.08 L491.0,612.85 L492.5,614.59 L494.0,616.29 L495.5,617.96 L497.0,619.59 L498.5,621.19 L500.0,622.76 L501.5,624.29 L503.0,625.80 L504.5,627.27 L506.0,628.71 L507.5,630.13 L509.0,631.51 L510.5,632.87 L512.0,634.19 L513.5,635.49 L515.0,636.76 L516.5,638.01 L518.0,639.23 L519.5,640.42 L521.0,641.59 L522.5,642.73 L524.0,643.85 L525.5,644.94 L527.0,646.01 L528.5,647.06 L530.0,648.08 L531.5,649.08 L533.0,650.06 L534.5,651.02 L536.0,651.95 L537.5,652.87 L539.0,653.76 L540.5,654.63 L542.0,655.49 L543.5,656.32 L545.0,657.13 L546.5,657.93 L548.0,658.70 L549.5,659.46 L551.0,660.20 L552.5,660.92 L554.0,661.63 L555.5,662.31 L557.0,662.98 L558.5,663.64 L560.0,664.28 L561.5,664.90 L563.0,665.50 L564.5,666.09 L566.0,666.67 L567.5,667.23 L569.0,667.78 L570.5,668.31 L572.0,668.83 L573.5,669.33 L575.0,669.82 L576.5,670.30 L578.0,670.77 L579.5,671.22 L581.0,671.66 L582.5,672.09 L584.0,672.51 L585.5,672.91 L587.0,673.31 L588.5,673.69 L590.0,674.06 L591.5,674.42 L593.0,674.78 L594.5,675.12 L596.0,675.45 L597.5,675.77 L599.0,676.09 L600.5,676.39 L602.0,676.68 L603.5,676.97 L605.0,677.25 L606.5,677.52 L608.0,677.78 L609.5,678.04 L611.0,678.28 L612.5,678.52 L614.0,678.76 L615.5,678.98 L617.0,679.20 L618.5,679.42 L620.0,679.62 L621.5,679.82 L623.0,680.02 L624.5,680.21 L626.0,680.39 L627.5,680.57 L629.0,680.74 L630.5,680.91 L632.0,681.07 L633.5,681.23 L635.0,681.38 L636.5,681.53 L638.0,681.68 L639.5,681.82 L641.0,681.96 L642.5,682.09 L644.0,682.22 L645.5,682.34 L647.0,682.47 L648.5,682.59 L650.0,682.70 L651.5,682.82 L653.0,682.93 L654.5,683.04 L656.0,683.14 L657.5,683.24 L659.0,683.34 L660.5,683.44 L662.0,683.54 L663.5,683.63 L665.0,683.72 L666.5,683.81 L668.0,683.90 L669.5,683.98 L671.0,684.06 L672.5,684.15 L674.0,684.23 L675.5,684.31 L677.0,684.38 L678.5,684.46 L680.0,684.53 L681.5,684.61 L683.0,684.68 L684.5,684.75 L686.0,684.82 L687.5,684.89 L689.0,684.96 L690.5,685.02 L692.0,685.09 L693.5,685.16 L695.0,685.22 L696.5,685.28 L698.0,685.35 L699.5,685.41 L701.0,685.47 L702.5,685.53 L704.0,685.59 L705.5,685.65 L707.0,685.71 L708.5,685.77 L710.0,685.83 L711.5,685.89 L713.0,685.95 L714.5,686.00 L716.0,686.06 L717.5,686.12 L719.0,686.17 L720.5,686.23 L722.0,686.28 L723.5,686.34 L725.0,686.40 L726.5,686.45 L728.0,686.50 L729.5,686.56 L731.0,686.61 L732.5,686.67 L734.0,686.72 L735.5,686.77 L737.0,686.83 L738.5,686.88 L740.0,686.93 L741.5,686.98 L743.0,687.04 L744.5,687.09 L746.0,687.14 L747.5,687.19 L749.0,687.24 L750.5,687.30 L752.0,687.35 L753.5,687.40 L755.0,687.45 L756.5,687.50 L758.0,687.55 L759.5,687.60 L761.0,687.65 L762.5,687.70 L764.0,687.75 L765.5,687.80 L767.0,687.85 L768.5,687.90 L770.0,687.95 L771.5,688.00 L773.0,688.05 L774.5,688.10 L776.0,688.15 L777.5,688.20 L779.0,688.25 L780.5,688.29 L782.0,688.34 L783.5,688.39 L785.0,688.44 L786.5,688.48 L788.0,688.53 L789.5,688.58 L791.0,688.63 L792.5,688.67 L794.0,688.72 L795.5,688.77 L797.0,688.81 L798.5,688.86 L800.0,688.90 L801.5,688.95 L803.0,688.99 L804.5,689.04 L806.0,689.08 L807.5,689.13 L809.0,689.17 L810.5,689.22 L812.0,689.26 L813.5,689.30 L815.0,689.35 L816.5,689.39 L818.0,689.43 L819.5,689.48 L821.0,689.52 L822.5,689.56 L824.0,689.60 L825.5,689.64 L827.0,689.69 L828.5,689.73 L830.0,689.77 L831.5,689.81 L833.0,689.85 L834.5,689.89 L836.0,689.93 L837.5,689.97 L839.0,690.01 L840.5,690.04 L842.0,690.08 L843.5,690.12 L845.0,690.16 L846.5,690.20 L848.0,690.23 L849.5,690.27 L851.0,690.31 L852.5,690.34 L854.0,690.38 L855.5,690.42 L857.0,690.45 L858.5,690.49 L860.0,690.52 L861.5,690.56 L863.0,690.59 L864.5,690.62 L866.0,690.66 L867.5,690.69 L869.0,690.72 L870.5,690.76 L872.0,690.79 L873.5,690.82 L875.0,690.85 L876.5,690.88 L878.0,690.91 L879.5,690.95 L881.0,690.98 L882.5,691.01 L884.0,691.04 L885.5,691.07 L887.0,691.09 L888.5,691.12 L890.0,691.15 L891.5,691.18 L893.0,691.21 L894.5,691.24 L896.0,691.26 L897.5,691.29 L899.0,691.32 L900.5,691.34 L902.0,691.37 L903.5,691.40 L905.0,691.42 L906.5,691.45 L908.0,691.47 L909.5,691.50 L911.0,691.52 L912.5,691.54 L914.0,691.57 L915.5,691.59 L917.0,691.62 L918.5,691.64 L920.0,691.66 L921.5,691.68 L923.0,691.71 L924.5,691.73 L926.0,691.75 L927.5,691.77 L929.0,691.79 L930.5,691.81 L932.0,691.83 L933.5,691.85 L935.0,691.87 L936.5,691.89 L938.0,691.91 L939.5,691.93 L941.0,691.95 L942.5,691.97 L944.0,691.98 L945.5,692.00 L947.0,692.02 L948.5,692.04 L950.0,692.05 L951.5,692.07 L953.0,692.09 L954.5,692.10 L956.0,692.12 L957.5,692.14 L959.0,692.15 L960.5,692.17 L962.0,692.18" stroke="#000000"/>
<path d="M62.0,653.61 L63.5,652.85 L65.0,652.05 L66.5,651.22 L68.0,650.36 L69.5,649.46 L71.0,648.52 L72.5,647.54 L74.0,646.53 L75.5,645.47 L77.0,644.37 L78.5,643.22 L80.0,642.03 L81.5,640.79 L83.0,639.50 L84.5,638.16 L86.0,636.77 L87.5,635.32 L89.0,633.82 L90.5,632.26 L92.0,630.64 L93.5,628.96 L95.0,627.22 L96.5,625.42 L98.0,623.55 L99.5,621.61 L101.0,619.60 L102.5,617.52 L104.0,615.37 L105.5,613.15 L107.0,610.85 L108.5,608.47 L110.0,606.02 L111.5,603.48 L113.0,600.86 L114.5,598.16 L116.0,595.37 L117.5,592.50 L119.0,589.53 L120.5,586.48 L122.0,583.34 L123.5,580.11 L125.0,576.78 L126.5,573.36 L128.0,569.84 L129.5,566.23 L131.0,562.52 L132.5,558.72 L134.0,554.82 L135.5,550.81 L137.0,546.71 L138.5,542.51 L140.0,538.22 L141.5,533.82 L143.0,529.32 L144.5,524.72 L146.0,520.03 L147.5,515.24 L149.0,510.35 L150.5,505.36 L152.0,500.28 L153.5,495.11 L155.0,489.84 L156.5,484.48 L158.0,479.03 L159.5,473.49 L161.0,467.87 L162.5,462.16 L164.0,456.38 L165.5,450.51 L167.0,444.57 L168.5,438.55 L170.0,432.46 L171.5,426.31 L173.0,420.09 L174.5,413.82 L176.0,407.49 L177.5,401.10 L179.0,394.67 L180.5,388.19 L182.0,381.67 L183.5,375.12 L185.0,368.54 L186.5,361.93 L188.0,355.30 L189.5,348.66 L191.0,342.00 L192.5,335.34 L194.0,328.68 L195.5,322.02 L197.0,315.38 L198.5,308.75 L200.0,302.14 L201.5,295.56 L203.0,289.02 L204.5,282.51 L206.0,276.05 L207.5,269.64 L209.0,263.28 L210.5,256.99 L212.0,250.77 L213.5,244.61 L215.0,238.54 L216.5,232.56 L218.0,226.66 L219.5,220.86 L221.0,215.16 L222.5,209.56 L224.0,204.08 L225.5,198.72 L227.0,193.47 L228.5,188.35 L230.0,183.37 L231.5,178.51 L233.0,173.80 L234.5,169.23 L236.0,164.81 L237.5,160.54 L239.0,156.42 L240.5,152.47 L242.0,148.67 L243.5,145.04 L245.0,141.57 L246.5,138.27 L248.0,135.15 L249.5,132.20 L251.0,129.42 L252.5,126.82 L254.0,124.40 L255.5,122.16 L257.0,120.10 L258.5,118.22 L260.0,116.52 L261.5,115.00 L263.0,113.67 L264.5,112.52 L266.0,111.55 L267.5,110.76 L269.0,110.15 L270.5,109.72 L272.0,109.47 L273.5,109.39 L275.0,109.49 L276.5,109.76 L278.0,110.20 L279.5,110.82 L281.0,111.60 L282.5,112.54 L284.0,113.65 L285.5,114.92 L287.0,116.34 L288.5,117.92 L290.0,119.65 L291.5,121.53 L293.0,123.55 L294.5,125.71 L296.0,128.02 L297.5,130.45 L299.0,133.02 L300.5,135.72 L302.0,138.55 L303.5,141.49 L305.0,144.55 L306.5,147.73 L308.0,151.02 L309.5,154.41 L311.0,157.91 L312.5,161.51 L314.0,165.20 L315.5,168.99 L317.0,172.86 L318.5,176.82 L320.0,180.86 L321.5,184.98 L323.0,189.18 L324.5,193.44 L326.0,197.78 L327.5,202.17 L329.0,206.63 L330.5,211.15 L332.0,215.72 L333.5,220.35 L335.0,225.02 L336.5,229.74 L338.0,234.50 L339.5,239.30 L341.0,244.14 L342.5,249.01 L344.0,253.92 L345.5,258.85 L347.0,263.81 L348.5,268.79 L350.0,273.79 L351.5,278.81 L353.0,283.85 L354.5,288.90 L356.0,293.96 L357.5,299.03 L359.0,304.11 L360.5,309.19 L362.0,314.27 L363.5,319.36 L365.0,324.44 L366.5,329.53 L368.0,334.60 L369.5,339.67 L371.0,344.73 L372.5,349.78 L374.0,354.82 L375.5,359.84 L377.0,364.85 L378.5,369.84 L380.0,374.81 L381.5,379.76 L383.0,384.69 L384.5,389.59 L386.0,394.47 L387.5,399.33 L389.0,404.16 L390.5,408.96 L392.0,413.72 L393.5,418.46 L395.0,423.17 L396.5,427.84 L398.0,432.47 L399.5,437.08 L401.0,441.64 L402.5,446.17 L404.0,450.65 L405.5,455.10 L407.0,459.50 L408.5,463.87 L410.0,468.19 L411.5,472.46 L413.0,476.70 L414.5,480.88 L416.0,485.02 L417.5,489.12 L419.0,493.16 L420.5,497.16 L422.0,501.11 L423.5,505.01 L425.0,508.85 L426.5,512.65 L428.0,516.39 L429.5,520.08 L431.0,523.72 L432.5,527.31 L434.0,530.84 L435.5,534.31 L437.0,537.74 L438.5,541.10 L440.0,544.41 L441.5,547.66 L443.0,550.85 L444.5,553.99 L446.0,557.06 L447.5,560.08 L449.0,563.04 L450.5,565.94 L452.0,568.78 L453.5,571.55 L455.0,574.27 L456.5,576.92 L458.0,579.51 L459.5,582.04 L461.0,584.51 L462.5,586.92 L464.0,589.26 L465.5,591.54 L467.0,593.76 L468.5,595.92 L470.0,598.02 L471.5,600.06 L473.0,602.04 L474.5,603.96 L476.0,605.82 L477.5,607.63 L479.0,609.38 L480.5,611.08 L482.0,612.73 L483.5,614.33 L485.0,615.88 L486.5,617.39 L488.0,618.85 L489.5,620.28 L491.0,621.66 L492.5,623.01 L494.0,624.33 L495.5,625.62 L497.0,626.87 L498.5,628.11 L500.0,629.32 L501.5,630.50 L503.0,631.67 L504.5,632.82 L506.0,633.96 L507.5,635.08 L509.0,636.19 L510.5,637.29 L512.0,638.38 L513.5,639.46 L515.0,640.53 L516.5,641.59 L518.0,642.64 L519.5,643.68 L521.0,644.71 L522.5,645.74 L524.0,646.75 L525.5,647.75 L527.0,648.74 L528.5,649.72 L530.0,650.68 L531.5,651.63 L533.0,652.56 L534.5,653.47 L536.0,654.36 L537.5,655.23 L539.0,656.09 L540.5,656.91 L542.0,657.72 L543.5,658.50 L545.0,659.26 L546.5,659.99 L548.0,660.70 L549.5,661.38 L551.0,662.04 L552.5,662.67 L554.0,663.28 L555.5,663.86 L557.0,664.42 L558.5,664.95 L560.0,665.46 L561.5,665.94 L563.0,666.40 L564.5,666.85 L566.0,667.27 L567.5,667.67 L569.0,668.05 L570.5,668.41 L572.0,668.75 L573.5,669.08 L575.0,669.40 L576.5,669.69 L578.0,669.98 L579.5,670.25 L581.0,670.51 L582.5,670.75 L584.0,670.99 L585.5,671.21 L587.0,671.43 L588.5,671.63 L590.0,671.83 L591.5,672.02 L593.0,672.20 L594.5,672.38 L596.0,672.55 L597.5,672.71 L599.0,672.86 L600.5,673.01 L602.0,673.16 L603.5,673.30 L605.0,673.44 L606.5,673.57 L608.0,673.70 L609.5,673.82 L611.0,673.94 L612.5,674.06 L614.0,674.17 L615.5,674.28 L617.0,674.39 L618.5,674.49 L620.0,674.59 L621.5,674.69 L623.0,674.79 L624.5,674.88 L626.0,674.98 L627.5,675.07 L629.0,675.15 L630.5,675.24 L632.0,675.33 L633.5,675.41 L635.0,675.49 L636.5,675.57 L638.0,675.65 L639.5,675.73 L641.0,675.81 L642.5,675.88 L644.0,675.96 L645.5,676.03 L647.0,676.10 L648.5,676.17 L650.0,676.24 L651.5,676.31 L653.0,676.38 L654.5,676.45 L656.0,676.52 L657.5,676.58 L659.0,676.65 L660.5,676.71 L662.0,676.78 L663.5,676.84 L665.0,676.91 L666.5,676.97 L668.0,677.03 L669.5,677.10 L671.0,677.16 L672.5,677.22 L674.0,677.28 L675.5,677.34 L677.0,677.40 L678.5,677.46 L680.0,677.52 L681.5,677.58 L683.0,677.64 L684.5,677.70 L686.0,677.76 L687.5,677.82 L689.0,677.88 L690.5,677.94 L692.0,678.00 L693.5,678.06 L695.0,678.12 L696.5,678.17 L698.0,678.23 L699.5,678.29 L701.0,678.35 L702.5,678.41 L704.0,678.46 L705.5,678.52 L707.0,678.58 L708.5,678.64 L710.0,678.69 L711.5,678.75 L713.0,678.81 L714.5,678.87 L716.0,678.92 L717.5,678.98 L719.0,679.04 L720.5,679.09 L722.0,679.15 L723.5,679.21 L725.0,679.26 L726.5,679.32 L728.0,679.38 L729.5,679.44 L731.0,679.49 L732.5,679.55 L734.0,679.61 L735.5,679.66 L737.0,679.72 L738.5,679.77 L740.0,679.83 L741.5,679.89 L743.0,679.94 L744.5,680.00 L746.0,680.06 L747.5,680.11 L749.0,680.17 L750.5,680.23 L752.0,680.28 L753.5,680.34 L755.0,680.39 L756.5,680.45 L758.0,680.51 L759.5,680.56 L761.0,680.62 L762.5,680.68 L764.0,680.73 L765.5,680.79 L767.0,680.84 L768.5,680.90 L770.0,680.96 L771.5,681.01 L773.0,681.07 L774.5,681.12 L776.0,681.18 L777.5,681.23 L779.0,681.29 L780.5,681.35 L782.0,681.40 L783.5,681.46 L785.0,681.51 L786.5,681.57 L788.0,681.62 L789.5,681.68 L791.0,681.73 L792.5,681.79 L794.0,681.84 L795.5,681.90 L797.0,681.95 L798.5,682.01 L800.0,682.06 L801.5,682.12 L803.0,682.17 L804.5,682.23 L806.0,682.28 L807.5,682.34 L809.0,682.39 L810.5,682.45 L812.0,682.50 L813.5,682.56 L815.0,682.61 L816.5,682.67 L818.0,682.72 L819.5,682.78 L821.0,682.83 L822.5,682.88 L824.0,682.94 L825.5,682.99 L827.0,683.05 L828.5,683.10 L830.0,683.15 L831.5,683.21 L833.0,683.26 L834.5,683.32 L836.0,683.37 L837.5,683.42 L839.0,683.48 L840.5,683.53 L842.0,683.58 L843.5,683.64 L845.0,683.69 L846.5,683.74 L848.0,683.80 L849.5,683.85 L851.0,683.90 L852.5,683.95 L854.0,684.01 L855.5,684.06 L857.0,684.11 L858.5,684.17 L860.0,684.22 L861.5,684.27 L863.0,684.32 L864.5,684.37 L866.0,684.43 L867.5,684.48 L869.0,684.53 L870.5,684.58 L872.0,684.63 L873.5,684.69 L875.0,684.74 L876.5,684.79 L878.0,684.84 L879.5,684.89 L881.0,684.94 L882.5,685.00 L884.0,685.05 L885.5,685.10 L887.0,685.15 L888.5,685.20 L890.0,685.25 L891.5,685.30 L893.0,685.35 L894.5,685.40 L896.0,685.45 L897.5,685.50 L899.0,685.55 L900.5,685.60 L902.0,685.65 L903.5,685.70 L905.0,685.75 L906.5,685.80 L908.0,685.85 L909.5,685.90 L911.0,685.95 L912.5,686.00 L914.0,686.05 L915.5,686.10 L917.0,686.15 L918.5,686.20 L920.0,686.25 L921.5,686.30 L923.0,686.34 L924.5,686.39 L926.0,686.44 L927.5,686.49 L929.0,686.54 L930.5,686.59 L932.0,686.64 L933.5,686.68 L935.0,686.73 L936.5,686.78 L938.0,686.83 L939.5,686.87 L941.0,686.92 L942.5,686.97 L944.0,687.02 L945.5,687.06 L947.0,687.11 L948.5,687.16 L950.0,687.20 L951.5,687.25 L953.0,687.30 L954.5,687.34 L956.0,687.39 L957.5,687.44 L959.0,687.48 L960.5,687.53 L962.0,687.58" stroke="#FF80FF"/>
</g>
<g stroke-width="3.5" stroke-linecap="butt">
<line x1="198.2" y1="157.5" x2="273" y2="157.5" stroke="#FF8000"/>
<line x1="279" y1="111.4" x2="373.2" y2="111.4" stroke="#FF80FF"/>
<line x1="309.5" y1="148" x2="392.3" y2="148" stroke="#8000FF"/>
</g>
<g stroke="#000" stroke-width="2.2">
<line x1="64" y1="695" x2="64" y2="708"/><line x1="192" y1="695" x2="192" y2="708"/>
<line x1="320" y1="695" x2="320" y2="708"/><line x1="448" y1="695" x2="448" y2="708"/>
<line x1="576" y1="695" x2="576" y2="708"/><line x1="704" y1="695" x2="704" y2="708"/>
<line x1="832" y1="695" x2="832" y2="708"/><line x1="960" y1="695" x2="960" y2="708"/>
</g>
<g font-size="30" text-anchor="middle" fill="#000">
<text transform="translate(64,740) scale(1,1.06)">300</text><text transform="translate(192,740) scale(1,1.06)">350</text><text transform="translate(320,740) scale(1,1.06)">400</text>
<text transform="translate(448,740) scale(1,1.06)">450</text><text transform="translate(576,740) scale(1,1.06)">500</text><text transform="translate(704,740) scale(1,1.06)">550</text>
<text transform="translate(832,740) scale(1,1.06)">600</text><text transform="translate(960,740) scale(1,1.06)">650</text>
</g>
<text font-size="30" transform="translate(23.9,511.6) rotate(-90) scale(1.01,1)">Intesity (arbitrary unit)</text>
<text x="452.7" y="792.1" font-size="33.5" style="font-family:'Noto Serif CJK SC',serif;font-weight:900">λ</text>
<text x="482.5" y="792" font-size="30" style="font-family:'Noto Sans CJK SC',sans-serif;font-weight:700"><tspan style="font-weight:400">(</tspan><tspan dx="2.2" style="font-size:28.5px">nm</tspan><tspan dx="2.6" style="font-weight:400">)</tspan></text>
<g font-size="30">
<text transform="translate(243.7,78) scale(1,1.06)" fill="#000">382.4</text>
<text transform="translate(119.7,117.8) scale(1,1.06)" fill="#008000">320.0</text>
<text transform="translate(118.6,169.8) scale(1,1.06)" fill="#FF8000">385.6</text>
<text transform="translate(382.1,119) scale(1,1.06)" fill="#FF80FF">381.6</text>
<text transform="translate(400.5,159.2) scale(1,1.06)" fill="#8000FF">401.6</text>
<text transform="translate(593.2,124.4) scale(1,1.06)" fill="#FF0000">532.0</text>
</g>
<g stroke-width="4" stroke-linecap="round">
<line x1="791" y1="22.2" x2="860" y2="22.2" stroke="#FF8000"/>
<line x1="791" y1="54.1" x2="860" y2="54.1" stroke="#008000"/>
<line x1="791" y1="89" x2="860" y2="89" stroke="#FF0000"/>
<line x1="791" y1="123.4" x2="860" y2="123.4" stroke="#000"/>
<line x1="791" y1="158.8" x2="860" y2="158.8" stroke="#8000FF"/>
<line x1="791" y1="194" x2="860" y2="194" stroke="#FF80FF"/>
</g>
<g font-size="24" fill="#000" letter-spacing="0.45">
<text x="869" y="32">TPP</text>
<text x="869" y="64">FeTPP</text>
<text x="869" y="99.3">CoTPP</text>
<text x="869" y="134">NiTPP</text>
<text x="869" y="169">CuTPP</text>
<text x="869" y="203.5">ZnTPP</text>
</g>
</svg>
</body></html>
